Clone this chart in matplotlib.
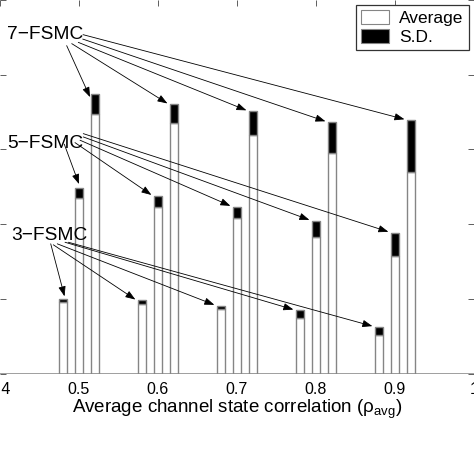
import numpy as np
import matplotlib
matplotlib.use("Agg")
import matplotlib.pyplot as plt
from matplotlib.patches import Patch

plt.rcParams['font.family'] = ['Liberation Sans', 'DejaVu Sans']
plt.rcParams['mathtext.fontset'] = 'custom'
plt.rcParams['mathtext.rm'] = 'Liberation Sans'
plt.rcParams['mathtext.it'] = 'Liberation Sans:italic'

# ---- data ----
rho = [0.5, 0.6, 0.7, 0.8, 0.9]
avg_3 = [0.957, 0.936, 0.864, 0.749, 0.513]
sd_3 = [0.036, 0.044, 0.045, 0.097, 0.111]
avg_5 = [2.353, 2.233, 2.087, 1.833, 1.567]
sd_5 = [0.133, 0.147, 0.147, 0.213, 0.320]
avg_7 = [3.473, 3.360, 3.193, 2.957, 2.700]
sd_7 = [0.267, 0.245, 0.320, 0.409, 0.693]
series_names = ['3−FSMC', '5−FSMC', '7−FSMC']
xticks = [0.4, 0.5, 0.6, 0.7, 0.8, 0.9, 1.0]
xtick_labels = ['0.4', '0.5', '0.6', '0.7', '0.8', '0.9', '1']

# ---- layout ----
fig = plt.figure(figsize=(4.74, 4.59), dpi=100)
ax_h = 373.5 / 459
ax = fig.add_axes([0.0, 1 - ax_h, 1.0, ax_h])

offset = 0.0203
width = 0.0107
gray = '#858585'
x = np.array(rho)

groups = [(avg_3, sd_3, -offset), (avg_5, sd_5, 0.0), (avg_7, sd_7, offset)]
for avg, sd, off in groups:
    ax.bar(x + off, avg, width=width, color='white', edgecolor=gray, linewidth=1.0, zorder=3)
    ax.bar(x + off, sd, width=width, bottom=avg, color='black', edgecolor=gray, linewidth=1.0, zorder=3)

ax.axhline(0, color=gray, lw=1.1, zorder=3.5)

ax.set_xlim(0.4, 1.0)
ax.set_ylim(0, 5)
ax.set_xticks(xticks)
ax.set_xticklabels(xtick_labels, fontsize=11.5)
ax.set_yticks([0, 1, 2, 3, 4, 5])
ax.set_yticklabels([])
for s in ax.spines.values():
    s.set_visible(False)
ax.tick_params(axis='both', direction='in', top=True, right=True, bottom=True, left=True,
               length=4, width=0.6, color='#444444')
ax.tick_params(axis='x', bottom=False, pad=6)
ax.set_xlabel(r'Average channel state correlation ($\mathrm{\rho}_{\mathrm{avg}}$)', fontsize=13.5, labelpad=1)

# ---- labels and arrows ----
label_pos = [(0.4139, 1.789), (0.4089, 3.02), (0.4089, 4.473)]
starts = [
    [(0.4642, 1.736), (0.4675, 1.723), (0.4725, 1.736), (0.4823, 1.757), (0.4865, 1.757)],
    [(0.4814, 3.069), (0.4949, 3.091), (0.5013, 3.123), (0.5054, 3.167), (0.5054, 3.211)],
    [(0.4844, 4.389), (0.4908, 4.416), (0.4991, 4.433), (0.5047, 4.477), (0.5051, 4.536)],
]
first_tip = [(0.002, 0.04), (0.0, 0.05), (-width / 2 - 0.001, -0.04)]
aprops = dict(arrowstyle='-|>,head_length=0.6,head_width=0.22', color='black', lw=0.6,
              shrinkA=0, shrinkB=0, mutation_scale=10)
for k, ((avg, sd, off), name) in enumerate(zip(groups, series_names)):
    ax.text(label_pos[k][0], label_pos[k][1], name, fontsize=13.8, ha='left', va='baseline', zorder=5)
    for i in range(len(rho)):
        top = avg[i] + sd[i]
        if i == 0:
            tip = (x[i] + off + first_tip[k][0], top + first_tip[k][1])
        else:
            tip = (x[i] + off - width / 2 - 0.003, top + 0.01)
        ax.annotate('', xy=tip, xytext=starts[k][i], xycoords='data', textcoords='data',
                    arrowprops=aprops, zorder=5)

# ---- legend ----
handles = [Patch(facecolor='white', edgecolor=gray, linewidth=0.8),
           Patch(facecolor='black', edgecolor=gray, linewidth=0.8)]
leg = ax.legend(handles, ['Average', 'S.D.'], loc='upper right', fontsize=12.5,
                frameon=True, fancybox=False, framealpha=1, edgecolor='#333333',
                borderaxespad=0.3, borderpad=0.3, labelspacing=0.15,
                handlelength=1.6, handleheight=0.85, handletextpad=0.6)
leg.get_frame().set_linewidth(0.9)

fig.savefig('out.png', dpi=100)
